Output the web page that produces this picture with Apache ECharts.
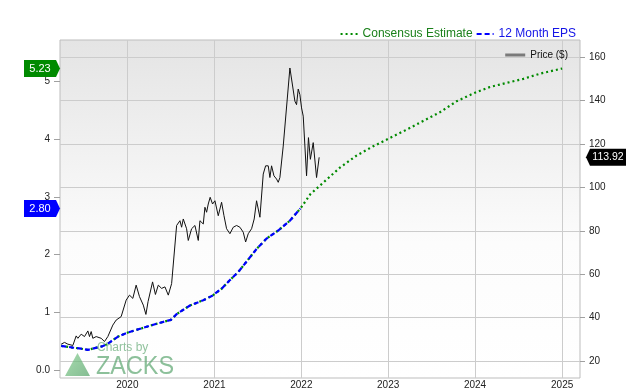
<!DOCTYPE html>
<html><head><meta charset="utf-8">
<script src="https://cdn.jsdelivr.net/npm/echarts@6/dist/echarts.min.js"></script>
<style>html,body{margin:0;padding:0;background:#fff}#c{width:640px;height:390px}</style>
</head><body><div id="c"></div>
<script>
// ---- data ----
const priceDates = ['2019-03-29','2019-04-12','2019-04-26','2019-05-17','2019-05-31','2019-06-07','2019-06-21','2019-07-05','2019-07-19','2019-07-26','2019-08-02','2019-08-09','2019-08-23','2019-09-13','2019-09-27','2019-10-11','2019-11-01','2019-11-15','2019-12-06','2019-12-27','2020-01-10','2020-01-24','2020-02-07','2020-02-21','2020-03-08','2020-03-19','2020-03-28','2020-04-16','2020-04-28','2020-05-10','2020-05-24','2020-06-07','2020-06-21','2020-07-05','2020-07-12','2020-07-26','2020-08-09','2020-08-16','2020-08-23','2020-09-06','2020-09-13','2020-09-27','2020-10-11','2020-10-25','2020-11-01','2020-11-15','2020-11-22','2020-11-29','2020-12-06','2020-12-14','2020-12-24','2021-01-03','2021-01-17','2021-01-31','2021-02-10','2021-02-21','2021-02-28','2021-03-07','2021-03-21','2021-04-04','2021-04-18','2021-05-02','2021-05-12','2021-05-23','2021-06-06','2021-06-17','2021-06-27','2021-07-11','2021-07-25','2021-08-04','2021-08-15','2021-08-22','2021-08-29','2021-09-08','2021-09-19','2021-09-26','2021-10-03','2021-10-17','2021-10-24','2021-11-14','2021-11-21','2021-12-05','2021-12-12','2021-12-19','2021-12-26','2022-01-02','2022-01-09','2022-01-23','2022-01-31','2022-02-08','2022-02-20','2022-03-06','2022-03-17'];
const priceValues = [27.8,28.6,27.8,27.2,31.6,30.5,32.4,31.3,33.9,31.3,33.6,30.5,31.3,30.5,29.0,31.3,36.6,38.9,40.5,48.1,50.4,48.9,55.0,49.7,45.8,41.5,47.4,56.5,50.7,55.0,53.5,54.2,50.4,55.7,55.7,82.5,84.7,81.7,85.5,81.0,75.6,81.0,82.5,75.6,84.7,83.2,90.9,88.6,92.4,95.5,92.4,93.9,87.0,93.2,87.0,81.0,80.2,78.7,81.7,82.5,81.7,79.4,74.9,78.7,81.0,85.5,93.9,86.3,106.2,110.0,110.0,104.6,110.0,105.4,103.9,102.4,104.6,119.1,119.9,155.1,154.3,139.8,138.2,145.4,142.8,136.7,132.9,105.4,123.0,113.0,120.7,104.6,113.92];

const epsDates = ['2019-03-29','2019-05-17','2019-06-21','2019-07-19','2019-08-17','2019-09-16','2019-10-04','2019-10-22','2019-11-23','2020-01-03','2020-02-27','2020-03-29','2020-05-09','2020-07-02','2020-07-26','2020-09-20','2020-11-15','2020-12-23','2021-01-31','2021-03-07','2021-04-11','2021-06-27','2021-08-08','2021-09-26','2021-11-14','2021-12-19','2021-12-28'];
const epsValues = [0.42,0.39,0.37,0.35,0.38,0.41,0.44,0.49,0.58,0.65,0.72,0.76,0.81,0.87,0.97,1.12,1.21,1.29,1.41,1.56,1.70,2.10,2.28,2.42,2.59,2.76,2.80];

const estDates = ['2022-02-08','2022-04-03','2022-06-12','2022-08-21','2022-10-30','2023-01-01','2023-03-20','2023-05-28','2023-08-06','2023-10-15','2024-01-01','2024-03-04','2024-05-13','2024-07-22','2024-09-30','2025-01-01'];
const estValues = [3.05,3.25,3.51,3.72,3.88,4.01,4.17,4.32,4.47,4.66,4.81,4.91,4.98,5.05,5.14,5.23];

const yearTicks = ['2020-01-01','2021-01-01','2022-01-01','2023-01-01','2024-01-01','2025-01-01'];
const epsTicks = [0,1,2,3,4,5];
const priceTicks = [20,40,60,80,100,120,140,160];
const xRange = ['2019-03-24','2025-03-17'];
const epsRange = [-0.138, 5.724];
const priceRange = [12.2, 168.0];

// ---- chart ----
const FONT = '"Liberation Sans", Arial, Helvetica, sans-serif';
const t = s => { const p = s.split('-').map(Number); return Date.UTC(p[0], p[1]-1, p[2]); };
const pricePts = priceDates.map((d,i)=>[t(d), priceValues[i]]);
const epsPts = epsDates.map((d,i)=>[t(d), epsValues[i]]);
const estPts = epsPts.concat(estDates.map((d,i)=>[t(d), estValues[i]]));
const GREEN = '#008a00', BLUE = '#0000ff';

const chart = echarts.init(document.getElementById('c'), null, {renderer:'canvas'});
const option = {
  animation:false,
  textStyle:{fontFamily:FONT},
  grid:{left:60,right:60,top:40,bottom:10,show:true,borderColor:'#bdbdbd',borderWidth:1,
    backgroundColor:{type:'linear',x:0,y:0,x2:0,y2:1,colorStops:[{offset:0,color:'#e4e4e4'},{offset:0.6,color:'#fcfcfc'},{offset:1,color:'#ffffff'}]}},
  legend:[
    {data:[{name:'Consensus Estimate',textStyle:{color:'#1a801a'}},{name:'12 Month EPS',textStyle:{color:'#1414e6'}}],
     right:59, top:23, itemWidth:17, itemHeight:10, itemGap:3, selectedMode:false,
     itemStyle:{opacity:0},
     textStyle:{fontSize:12,fontFamily:FONT}},
    {data:['Price ($)'], right:67, top:45, icon:'rect', itemWidth:20, itemHeight:3, itemGap:0, selectedMode:false,
     itemStyle:{color:'#7a7a7a'}, textStyle:{fontSize:10,color:'#111',fontFamily:FONT}}
  ],
  xAxis:{type:'value', min:t(xRange[0]), max:t(xRange[1]),
    axisLine:{show:false},
    axisTick:{show:true,length:0,customValues:yearTicks.map(t)},
    axisLabel:{customValues:yearTicks.map(t), formatter:v=>String(new Date(v).getUTCFullYear()), fontSize:10, color:'#222', margin:2, fontFamily:FONT},
    splitLine:{show:true,lineStyle:{color:'#cccccc',width:1}}},
  yAxis:[
    {type:'value', position:'left', min:epsRange[0], max:epsRange[1],
     axisLine:{show:false},
     axisTick:{show:true,length:6,customValues:epsTicks,lineStyle:{color:'#a0a0a0'}},
     axisLabel:{customValues:epsTicks, formatter:v=> v===0?'0.0':String(v), fontSize:10, color:'#222', margin:10, fontFamily:FONT},
     splitLine:{show:false}},
    {type:'value', position:'right', min:priceRange[0], max:priceRange[1],
     axisLine:{show:false},
     axisTick:{show:true,length:5,customValues:priceTicks,lineStyle:{color:'#a0a0a0'}},
     axisLabel:{customValues:priceTicks, fontSize:10, color:'#222', margin:9, fontFamily:FONT},
     splitLine:{show:true,lineStyle:{color:'#cccccc',width:1}}}
  ],
  series:[
    {name:'Consensus Estimate', type:'line', yAxisIndex:0, data:estPts, symbol:'none', z:2,
     itemStyle:{color:GREEN}, lineStyle:{color:GREEN,width:2.2,type:[2,3]}},
    {name:'12 Month EPS', type:'line', yAxisIndex:0, data:epsPts, symbol:'none', z:3,
     itemStyle:{color:BLUE}, lineStyle:{color:BLUE,width:2.2,type:[5,3]}},
    {name:'Price ($)', type:'line', yAxisIndex:1, data:pricePts, symbol:'none', z:4,
     itemStyle:{color:'#111'}, lineStyle:{color:'#111',width:1}}
  ]
};
chart.setOption(option);

// badges placed through the library's scales
const lastEst = estValues[estValues.length-1];
const lastEps = epsValues[epsValues.length-1];
const lastPrice = priceValues[priceValues.length-1];
const xL = chart.convertToPixel({xAxisIndex:0}, t(xRange[0]));
const xR = chart.convertToPixel({xAxisIndex:0}, t(xRange[1]));
const yG = chart.convertToPixel({yAxisIndex:0}, lastEst);
const yB = chart.convertToPixel({yAxisIndex:0}, lastEps);
const yP = chart.convertToPixel({yAxisIndex:1}, lastPrice);
function leftBadge(y, color, txt){
  return [
    {type:'polygon', z:100, shape:{points:[[xL-36,y-8.5],[xL-4,y-8.5],[xL,y],[xL-4,y+8.5],[xL-36,y+8.5]]}, style:{fill:color}},
    {type:'text', z:101, x:xL-20, y:y, style:{text:txt, fill:'#fff', font:'11px '+FONT, align:'center', verticalAlign:'middle'}}
  ];
}
const badges = [].concat(
  leftBadge(yG, GREEN, lastEst.toFixed(2)),
  leftBadge(yB, BLUE, lastEps.toFixed(2)),
  [
    {type:'polygon', z:100, shape:{points:[[xR+6,yP],[xR+10,yP-8.5],[xR+46,yP-8.5],[xR+46,yP+8.5],[xR+10,yP+8.5]]}, style:{fill:'#000'}},
    {type:'text', z:101, x:xR+28, y:yP, style:{text:lastPrice.toFixed(2), fill:'#fff', font:'10.5px '+FONT, align:'center', verticalAlign:'middle'}}
  ],
  [
    {type:'polygon', z:90, shape:{points:[[65,376],[90,376],[77.5,353]]},
     style:{fill:{type:'linear',x:0,y:0,x2:1,y2:1,colorStops:[{offset:0,color:'rgba(130,205,140,0.7)'},{offset:1,color:'rgba(80,160,100,0.7)'}]}}},
    {type:'text', z:90, x:97, y:348, style:{text:'Charts by', fill:'rgba(110,175,125,0.75)', font:'12px '+FONT, verticalAlign:'middle'}},
    {type:'text', z:90, x:96, y:367, scaleX:0.9, style:{text:'ZACKS', fill:'rgba(95,168,115,0.72)', font:'26px '+FONT, verticalAlign:'middle'}}
  ]
);
chart.setOption({graphic:badges});
</script>
</body></html>
